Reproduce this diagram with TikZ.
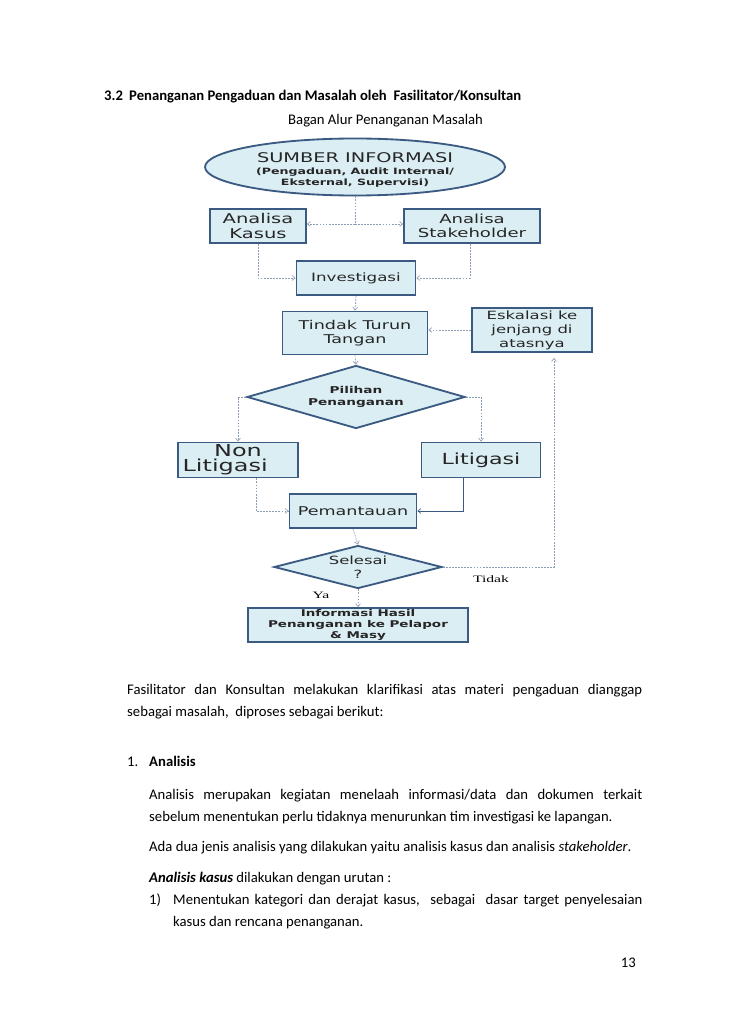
\documentclass[tikz,border=0pt]{standalone}
\usepackage{fontspec}
\setmainfont{Carlito}
\newfontfamily\chartfont[FakeStretch=1.45]{DejaVu Sans}
\newfontfamily\tagfont[FakeStretch=1.6]{Liberation Serif}
\usetikzlibrary{shapes.geometric,arrows.meta}
\definecolor{boxfill}{HTML}{DBEEF4}
\definecolor{boxline}{HTML}{3B5A82}
\definecolor{connline}{HTML}{8A9DB5}
\definecolor{boxtext}{HTML}{262626}
\def\px{0.8175pt}
\newcommand{\cfont}[2]{\chartfont\fontsize{#1}{#2}\selectfont}
\newcommand{\fullline}[2]{\makebox[\dimexpr\px*#1\relax][s]{#2}}
\tikzset{
  box/.style={draw=boxline, fill=boxfill, line width=1.5pt, text=boxtext, inner sep=0pt, align=center},
  decide/.style={box, diamond},
  conn/.style={draw=connline, line width=0.5pt, dash pattern=on 1.5pt off 1pt},
  txt/.style={anchor=base west, inner sep=0pt},
}
\begin{document}
\begin{tikzpicture}[x=\px, y=-\px, >={Straight Barb[length=2.5pt,width=4pt]}, font=\fontsize{12}{14}\selectfont]
\fill[white] (0,0) rectangle (728,1030);
\useasboundingbox (0,0) rectangle (728,1030);
% judul
\node[txt] (num) at (104,101) {\bfseries 3.2};
\node[txt] (title) at (129,101) {\bfseries Penanganan Pengaduan dan Masalah oleh\ \ Fasilitator/Konsultan};
\node[txt] (caption) at (288,125) {Bagan Alur Penanganan Masalah};
% bagan alur
\node[box, ellipse, minimum width=300*\px, minimum height=57*\px, font=\cfont{7.1}{8.8}\bfseries] (sumber) at (355,167)
  {\rule{0pt}{13pt}{\mdseries\cfont{10.9}{11}SUMBER INFORMASI}\\[0.5pt] (Pengaduan, Audit Internal/\\ Eksternal, Supervisi)};
\node[box, minimum width=96*\px, minimum height=34*\px, font=\cfont{11}{12}] (kasus) at (258,226) {Analisa\\Kasus};
\node[box, minimum width=136*\px, minimum height=34*\px, font=\cfont{10.2}{12}] (stake) at (472,226) {Analisa\\Stakeholder};
\node[box, minimum width=119*\px, minimum height=34*\px, font=\cfont{9.4}{12}] (invest) at (356,278) {Investigasi};
\node[box, minimum width=145*\px, minimum height=43*\px, font=\cfont{9.9}{12}] (tindak) at (355,333) {Tindak Turun\\Tangan};
\node[box, minimum width=120*\px, minimum height=44*\px, font=\cfont{9.3}{11.5}] (eskal) at (532,330) {Eskalasi ke\\jenjang di\\atasnya};
\node[decide, aspect=3.4, minimum width=218*\px, minimum height=63*\px, font=\cfont{7.7}{10}\bfseries] (pilihan) at (356,397) {Pilihan\\Penanganan};
\node[box, minimum width=120*\px, minimum height=35*\px, font=\cfont{13.5}{12.5}] (nonlit) at (238,460) {Non\\Litigasi\hspace*{21pt}};
\node[box, minimum width=119*\px, minimum height=35*\px, font=\cfont{12.5}{13}] (lit) at (481,460) {Litigasi};
\node[box, minimum width=127*\px, minimum height=34*\px, font=\cfont{9.9}{12}] (pemant) at (353,511) {Pemantauan};
\node[decide, aspect=3.9, minimum width=168*\px, minimum height=43*\px, font=\cfont{9.25}{11}] (selesai) at (358,567) {Selesai\\?};
\node[box, minimum width=220*\px, minimum height=34*\px, font=\cfont{7.6}{9.3}\bfseries] (info) at (358,625) {Informasi Hasil\\Penanganan ke Pelapor\\\& Masy};
\node[font=\tagfont\fontsize{8}{9}\selectfont, inner sep=0pt] (tidak) at (491,579) {Tidak};
\node[font=\tagfont\fontsize{8}{9}\selectfont, inner sep=0pt] (ya) at (321,595) {Ya};
% penghubung
\coordinate (split) at (355,224);
\coordinate (back) at (554,567);
\draw[conn] (sumber.south) -- (split);
\draw[conn,->] (split) -- (split -| kasus.east);
\draw[conn,->] (split) -- (split -| stake.west);
\draw[conn,->] (kasus.south) |- (invest.west);
\draw[conn,->] ([xshift=-2*\px]stake.south) |- (invest.east);
\draw[conn,->] (invest.south) -- (tindak.north);
\draw[conn,->] (eskal.west) -- (eskal.west -| tindak.east);
\draw[conn,->] (tindak.south) -- (pilihan.north);
\draw[conn,->] (pilihan.west) -| (nonlit.north);
\draw[conn,->] (pilihan.east) -| (lit.north);
\draw[conn,->] ([xshift=18*\px]nonlit.south) |- (pemant.west);
\draw[draw=boxline, line width=0.5pt, ->] ([xshift=-18*\px]lit.south) |- (pemant.east);
\draw[conn,->] (pemant.south) -- (selesai.north);
\draw[conn,->, shorten >=5*\px] (selesai.east) -- (back) -- (back |- eskal.south);
\draw[conn,->] (selesai.south) -- (info.north);
% uraian
\node[txt] (p1) at (127,694) {\fullline{515}{Fasilitator dan Konsultan melakukan klarifikasi atas materi pengaduan dianggap}};
\node[txt] (p2) at (127,716) {sebagai masalah,\ \ diproses sebagai berikut:};
\node[txt] (n1) at (127,766) {1.};
\node[txt] (h1) at (149,766) {\bfseries Analisis};
\node[txt] (p3) at (149,799) {\fullline{493}{Analisis merupakan kegiatan menelaah informasi/data dan dokumen terkait}};
\node[txt] (p4) at (149,821) {sebelum menentukan perlu tidaknya menurunkan tim investigasi ke lapangan.};
\node[txt] (p5) at (149,851) {Ada dua jenis analisis yang dilakukan yaitu analisis kasus dan analisis \textit{stakeholder}.};
\node[txt] (p6) at (149,882) {\textbf{\textit{Analisis kasus}} dilakukan dengan urutan :};
\node[txt] (n2) at (149,904) {1)};
\node[txt] (p7) at (173,904) {\fullline{469}{Menentukan kategori dan derajat kasus,\ \ sebagai\ \ dasar target penyelesaian}};
\node[txt] (p8) at (173,926) {kasus dan rencana penanganan.};
\node[anchor=base east, inner sep=0pt] (page) at (636,967) {13};
\end{tikzpicture}
\end{document}
